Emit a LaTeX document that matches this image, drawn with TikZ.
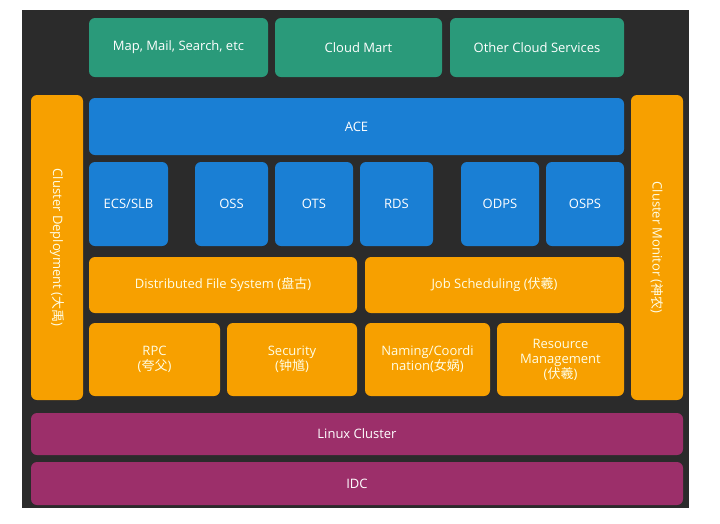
\documentclass[tikz,border=0pt]{standalone}
\usepackage{fontspec}
\setmainfont{Open Sans}
\newfontfamily\cjk{Noto Sans CJK SC}
\usetikzlibrary{positioning}
\definecolor{tgreen}{HTML}{2A9A7A}
\definecolor{tblue}{HTML}{1A7FD4}
\definecolor{torange}{HTML}{F7A000}
\definecolor{tpurple}{HTML}{9C2F6A}
\definecolor{tback}{HTML}{2B2B2B}
\tikzset{
tile/.style={
  rectangle,
  rounded corners=6pt,
  text=white,
  align=center,
  font=\fontsize{13}{15}\selectfont,
  inner sep=0pt},
app/.style={tile, fill=tgreen},
svc/.style={tile, fill=tblue},
core/.style={tile, fill=torange, text=white!90!yellow},
base/.style={tile, fill=tpurple}
}
% box from pixel corners (x1,y1) to (x2,y2)
\newcommand{\tilebox}[7]{%
  \node[#6, minimum width=#4pt-#2pt, minimum height=#5pt-#3pt]
    (#1) at ({(#2+#4)/2*1pt}, {-(#3+#5)/2*1pt}) {#7};}

\begin{document}
\begin{tikzpicture}
  \useasboundingbox (0,0) rectangle (720pt,-523pt);
  \fill[white] (0,0) rectangle (720pt,-523pt);
  \fill[tback] (22pt,-10pt) rectangle (689pt,-508pt);

  \tilebox{map}{89}{18}{268}{77}{app}{Map, Mail, Search, etc}
  \tilebox{mart}{275}{18}{442}{77}{app}{Cloud Mart}
  \tilebox{other}{450}{18}{624}{77}{app}{Other Cloud Services}

  \tilebox{deploy}{31}{95}{83}{400}{core}{}
  \tilebox{monitor}{631}{95}{683}{400}{core}{}
  \node[rotate=-90, text=white!90!yellow, font=\fontsize{13}{15}\selectfont]
    at (deploy) {Cluster Deployment ({\cjk 大禹})};
  \node[rotate=-90, text=white!90!yellow, font=\fontsize{13}{15}\selectfont]
    at (monitor) {Cluster Monitor ({\cjk 神农})};

  \tilebox{ace}{89}{98}{624}{155}{svc}{ACE}
  \tilebox{ecs}{89}{162}{168}{246}{svc}{ECS/SLB}
  \tilebox{oss}{195}{162}{268}{246}{svc}{OSS}
  \tilebox{ots}{275}{162}{353}{246}{svc}{OTS}
  \tilebox{rds}{360}{162}{433}{246}{svc}{RDS}
  \tilebox{odps}{461}{162}{539}{246}{svc}{ODPS}
  \tilebox{osps}{546}{162}{624}{246}{svc}{OSPS}

  \tilebox{dfs}{89}{257}{357}{313}{core}{Distributed File System ({\cjk 盘古})}
  \tilebox{job}{365}{257}{624}{313}{core}{Job Scheduling ({\cjk 伏羲})}

  \tilebox{rpc}{89}{323}{220}{396}{core}{RPC\\({\cjk 夸父})}
  \tilebox{sec}{227}{323}{357}{396}{core}{Security\\({\cjk 钟馗})}
  \tilebox{naming}{365}{323}{490}{396}{core}{Naming/Coordi\\nation({\cjk 女娲})}
  \tilebox{res}{497}{323}{624}{396}{core}{Resource\\Management\\({\cjk 伏羲})}

  \tilebox{linux}{31}{413}{683}{455}{base}{Linux Cluster}
  \tilebox{idc}{31}{462}{683}{505}{base}{IDC}
\end{tikzpicture}
\end{document}
